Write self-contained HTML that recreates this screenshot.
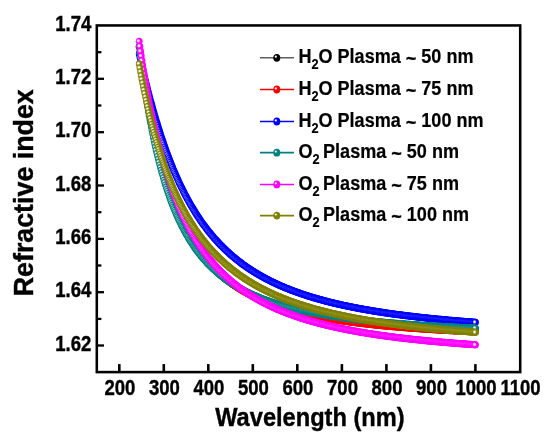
<!DOCTYPE html>
<html><head><meta charset="utf-8"><style>
html,body{margin:0;padding:0;background:#fff;}
svg{display:block;}
text{font-family:"Liberation Sans",Arial,sans-serif;font-weight:bold;fill:#000;stroke:#000;stroke-width:0.4px;}
.tk text{font-size:21.2px;}
.lg{font-size:20.4px;white-space:pre;stroke-width:0.2px;}
</style></head><body>
<svg width="550" height="439" viewBox="0 0 550 439">
<defs><radialGradient id="gblack" cx="-0.9" cy="-0.35" r="2.6" gradientUnits="userSpaceOnUse"><stop offset="0" stop-color="#fff"/><stop offset="0.22" stop-color="#fff"/><stop offset="0.82" stop-color="#000000"/><stop offset="1" stop-color="#000000"/></radialGradient><marker id="mblack" markerUnits="userSpaceOnUse" markerWidth="10" markerHeight="10" refX="5" refY="5" overflow="visible"><circle r="3.4" transform="translate(5,5) scale(1,1.05)" fill="url(#gblack)"/></marker><radialGradient id="gred" cx="-0.9" cy="-0.35" r="2.6" gradientUnits="userSpaceOnUse"><stop offset="0" stop-color="#fff"/><stop offset="0.22" stop-color="#fff"/><stop offset="0.82" stop-color="#ff0000"/><stop offset="1" stop-color="#ff0000"/></radialGradient><marker id="mred" markerUnits="userSpaceOnUse" markerWidth="10" markerHeight="10" refX="5" refY="5" overflow="visible"><circle r="3.4" transform="translate(5,5) scale(1,1.05)" fill="url(#gred)"/></marker><radialGradient id="gblue" cx="-0.9" cy="-0.35" r="2.6" gradientUnits="userSpaceOnUse"><stop offset="0" stop-color="#fff"/><stop offset="0.22" stop-color="#fff"/><stop offset="0.82" stop-color="#0000ff"/><stop offset="1" stop-color="#0000ff"/></radialGradient><marker id="mblue" markerUnits="userSpaceOnUse" markerWidth="10" markerHeight="10" refX="5" refY="5" overflow="visible"><circle r="3.4" transform="translate(5,5) scale(1,1.05)" fill="url(#gblue)"/></marker><radialGradient id="gteal" cx="-0.9" cy="-0.35" r="2.6" gradientUnits="userSpaceOnUse"><stop offset="0" stop-color="#fff"/><stop offset="0.22" stop-color="#fff"/><stop offset="0.82" stop-color="#008080"/><stop offset="1" stop-color="#008080"/></radialGradient><marker id="mteal" markerUnits="userSpaceOnUse" markerWidth="10" markerHeight="10" refX="5" refY="5" overflow="visible"><circle r="3.4" transform="translate(5,5) scale(1,1.05)" fill="url(#gteal)"/></marker><radialGradient id="gmagenta" cx="-0.9" cy="-0.35" r="2.6" gradientUnits="userSpaceOnUse"><stop offset="0" stop-color="#fff"/><stop offset="0.22" stop-color="#fff"/><stop offset="0.82" stop-color="#ff00ff"/><stop offset="1" stop-color="#ff00ff"/></radialGradient><marker id="mmagenta" markerUnits="userSpaceOnUse" markerWidth="10" markerHeight="10" refX="5" refY="5" overflow="visible"><circle r="3.4" transform="translate(5,5) scale(1,1.05)" fill="url(#gmagenta)"/></marker><radialGradient id="golive" cx="-0.9" cy="-0.35" r="2.6" gradientUnits="userSpaceOnUse"><stop offset="0" stop-color="#fff"/><stop offset="0.22" stop-color="#fff"/><stop offset="0.82" stop-color="#808000"/><stop offset="1" stop-color="#808000"/></radialGradient><marker id="molive" markerUnits="userSpaceOnUse" markerWidth="10" markerHeight="10" refX="5" refY="5" overflow="visible"><circle r="3.4" transform="translate(5,5) scale(1,1.05)" fill="url(#golive)"/></marker></defs>
<g><polyline points="139.2,46.8 139.9,52.3 140.6,57.6 141.3,62.8 142.0,67.9 142.7,72.9 143.4,77.7 144.1,82.4 144.8,87.0 145.6,91.5 146.3,95.8 147.0,100.1 147.7,104.2 148.4,108.2 149.1,112.2 149.8,116.0 150.5,119.8 151.3,123.4 152.0,127.0 152.7,130.5 153.4,133.9 154.1,137.2 154.8,140.5 155.5,143.7 156.2,146.8 157.0,149.8 157.7,152.7 158.4,155.6 159.1,158.5 159.8,161.2 160.5,163.9 161.2,166.6 161.9,169.2 162.7,171.7 163.4,174.2 164.1,176.6 164.8,179.0 165.5,181.3 166.2,183.6 166.9,185.8 167.6,188.0 168.4,190.1 169.1,192.2 169.8,194.3 170.5,196.3 171.2,198.2 171.9,200.2 172.6,202.0 173.3,203.9 174.0,205.7 174.8,207.5 175.5,209.2 176.2,210.9 176.9,212.6 177.6,214.3 178.3,215.9 179.0,217.5 179.7,219.0 180.5,220.5 181.2,222.0 181.9,223.5 182.6,224.9 183.3,226.4 184.0,227.7 184.7,229.1 185.4,230.5 186.2,231.8 186.9,233.1 187.6,234.3 188.3,235.6 189.0,236.8 189.7,238.0 190.4,239.2 191.1,240.3 191.9,241.5 192.6,242.6 193.3,243.7 194.0,244.8 194.7,245.9 195.4,246.9 196.1,247.9 196.8,248.9 197.5,249.9 198.3,250.9 199.0,251.9 199.7,252.8 200.4,253.8 201.1,254.7 201.8,255.6 202.5,256.5 203.2,257.4 204.0,258.2 204.7,259.1 205.4,259.9 206.1,260.7 206.8,261.5 207.5,262.3 208.2,263.1 208.9,263.9 209.7,264.6 210.4,265.4 211.1,266.1 211.8,266.9 212.5,267.6 213.2,268.3 213.9,269.0 214.6,269.7 215.4,270.3 216.1,271.0 216.8,271.7 217.5,272.3 218.2,272.9 218.9,273.6 219.6,274.2 220.3,274.8 221.0,275.4 221.8,276.0 222.5,276.6 223.2,277.1 223.9,277.7 224.6,278.3 225.3,278.8 226.0,279.4 226.7,279.9 227.5,280.4 228.2,281.0 228.9,281.5 229.6,282.0 230.3,282.5 231.0,283.0 231.7,283.5 232.4,284.0 233.2,284.4 233.9,284.9 234.6,285.4 235.3,285.8 236.0,286.3 236.7,286.7 237.4,287.2 238.1,287.6 238.9,288.0 239.6,288.5 240.3,288.9 241.0,289.3 241.7,289.7 242.4,290.1 243.1,290.5 243.8,290.9 244.6,291.3 245.3,291.7 246.0,292.1 246.7,292.4 247.4,292.8 248.1,293.2 248.8,293.5 249.5,293.9 250.2,294.2 251.0,294.6 251.7,294.9 252.4,295.3 253.1,295.6 253.8,295.9 254.5,296.3 255.2,296.6 255.9,296.9 256.7,297.2 257.4,297.6 258.1,297.9 258.8,298.2 259.5,298.5 260.2,298.8 260.9,299.1 261.6,299.4 262.4,299.7 263.1,300.0 263.8,300.2 264.5,300.5 265.2,300.8 265.9,301.1 266.6,301.3 267.3,301.6 268.1,301.9 268.8,302.1 269.5,302.4 270.2,302.7 270.9,302.9 271.6,303.2 272.3,303.4 273.0,303.7 273.7,303.9 274.5,304.1 275.2,304.4 275.9,304.6 276.6,304.9 277.3,305.1 278.0,305.3 278.7,305.5 279.4,305.8 280.2,306.0 280.9,306.2 281.6,306.4 282.3,306.7 283.0,306.9 283.7,307.1 284.4,307.3 285.1,307.5 285.9,307.7 286.6,307.9 287.3,308.1 288.0,308.3 288.7,308.5 289.4,308.7 290.1,308.9 290.8,309.1 291.6,309.3 292.3,309.5 293.0,309.6 293.7,309.8 294.4,310.0 295.1,310.2 295.8,310.4 296.5,310.6 297.3,310.7 298.0,310.9 298.7,311.1 299.4,311.2 300.1,311.4 300.8,311.6 301.5,311.8 302.2,311.9 302.9,312.1 303.7,312.2 304.4,312.4 305.1,312.6 305.8,312.7 306.5,312.9 307.2,313.0 307.9,313.2 308.6,313.3 309.4,313.5 310.1,313.6 310.8,313.8 311.5,313.9 312.2,314.1 312.9,314.2 313.6,314.4 314.3,314.5 315.1,314.6 315.8,314.8 316.5,314.9 317.2,315.1 317.9,315.2 318.6,315.3 319.3,315.5 320.0,315.6 320.8,315.7 321.5,315.9 322.2,316.0 322.9,316.1 323.6,316.2 324.3,316.4 325.0,316.5 325.7,316.6 326.4,316.7 327.2,316.9 327.9,317.0 328.6,317.1 329.3,317.2 330.0,317.3 330.7,317.5 331.4,317.6 332.1,317.7 332.9,317.8 333.6,317.9 334.3,318.0 335.0,318.1 335.7,318.2 336.4,318.4 337.1,318.5 337.8,318.6 338.6,318.7 339.3,318.8 340.0,318.9 340.7,319.0 341.4,319.1 342.1,319.2 342.8,319.3 343.5,319.4 344.3,319.5 345.0,319.6 345.7,319.7 346.4,319.8 347.1,319.9 347.8,320.0 348.5,320.1 349.2,320.2 350.0,320.3 350.7,320.4 351.4,320.5 352.1,320.6 352.8,320.7 353.5,320.7 354.2,320.8 354.9,320.9 355.6,321.0 356.4,321.1 357.1,321.2 357.8,321.3 358.5,321.4 359.2,321.4 359.9,321.5 360.6,321.6 361.3,321.7 362.1,321.8 362.8,321.9 363.5,321.9 364.2,322.0 364.9,322.1 365.6,322.2 366.3,322.3 367.0,322.4 367.8,322.4 368.5,322.5 369.2,322.6 369.9,322.7 370.6,322.7 371.3,322.8 372.0,322.9 372.7,323.0 373.5,323.0 374.2,323.1 374.9,323.2 375.6,323.3 376.3,323.3 377.0,323.4 377.7,323.5 378.4,323.5 379.1,323.6 379.9,323.7 380.6,323.8 381.3,323.8 382.0,323.9 382.7,324.0 383.4,324.0 384.1,324.1 384.8,324.2 385.6,324.2 386.3,324.3 387.0,324.4 387.7,324.4 388.4,324.5 389.1,324.6 389.8,324.6 390.5,324.7 391.3,324.7 392.0,324.8 392.7,324.9 393.4,324.9 394.1,325.0 394.8,325.0 395.5,325.1 396.2,325.2 397.0,325.2 397.7,325.3 398.4,325.3 399.1,325.4 399.8,325.5 400.5,325.5 401.2,325.6 401.9,325.6 402.7,325.7 403.4,325.7 404.1,325.8 404.8,325.9 405.5,325.9 406.2,326.0 406.9,326.0 407.6,326.1 408.3,326.1 409.1,326.2 409.8,326.2 410.5,326.3 411.2,326.3 411.9,326.4 412.6,326.4 413.3,326.5 414.0,326.6 414.8,326.6 415.5,326.7 416.2,326.7 416.9,326.8 417.6,326.8 418.3,326.9 419.0,326.9 419.7,327.0 420.5,327.0 421.2,327.0 421.9,327.1 422.6,327.1 423.3,327.2 424.0,327.2 424.7,327.3 425.4,327.3 426.2,327.4 426.9,327.4 427.6,327.5 428.3,327.5 429.0,327.6 429.7,327.6 430.4,327.6 431.1,327.7 431.8,327.7 432.6,327.8 433.3,327.8 434.0,327.9 434.7,327.9 435.4,328.0 436.1,328.0 436.8,328.0 437.5,328.1 438.3,328.1 439.0,328.2 439.7,328.2 440.4,328.2 441.1,328.3 441.8,328.3 442.5,328.4 443.2,328.4 444.0,328.4 444.7,328.5 445.4,328.5 446.1,328.6 446.8,328.6 447.5,328.6 448.2,328.7 448.9,328.7 449.7,328.8 450.4,328.8 451.1,328.8 451.8,328.9 452.5,328.9 453.2,329.0 453.9,329.0 454.6,329.0 455.4,329.1 456.1,329.1 456.8,329.1 457.5,329.2 458.2,329.2 458.9,329.2 459.6,329.3 460.3,329.3 461.0,329.3 461.8,329.4 462.5,329.4 463.2,329.5 463.9,329.5 464.6,329.5 465.3,329.6 466.0,329.6 466.7,329.6 467.5,329.7 468.2,329.7 468.9,329.7 469.6,329.8 470.3,329.8 471.0,329.8 471.7,329.9 472.4,329.9 473.2,329.9 473.9,329.9 474.6,330.0 475.3,330.0 475.4,330.0" fill="none" stroke="#000000" stroke-width="1" marker-start="url(#mblack)" marker-mid="url(#mblack)" marker-end="url(#mblack)"/><polyline points="139.2,47.0 139.9,52.2 140.6,57.2 141.3,62.1 142.0,66.9 142.7,71.6 143.4,76.2 144.1,80.7 144.8,85.1 145.6,89.3 146.3,93.5 147.0,97.6 147.7,101.6 148.4,105.5 149.1,109.3 149.8,113.1 150.5,116.7 151.3,120.3 152.0,123.8 152.7,127.3 153.4,130.6 154.1,133.9 154.8,137.1 155.5,140.2 156.2,143.3 157.0,146.3 157.7,149.3 158.4,152.2 159.1,155.0 159.8,157.8 160.5,160.5 161.2,163.1 161.9,165.7 162.7,168.3 163.4,170.8 164.1,173.2 164.8,175.6 165.5,178.0 166.2,180.3 166.9,182.5 167.6,184.7 168.4,186.9 169.1,189.0 169.8,191.1 170.5,193.2 171.2,195.2 171.9,197.1 172.6,199.1 173.3,201.0 174.0,202.8 174.8,204.6 175.5,206.4 176.2,208.2 176.9,209.9 177.6,211.6 178.3,213.3 179.0,214.9 179.7,216.5 180.5,218.1 181.2,219.6 181.9,221.1 182.6,222.6 183.3,224.1 184.0,225.5 184.7,226.9 185.4,228.3 186.2,229.7 186.9,231.0 187.6,232.3 188.3,233.6 189.0,234.9 189.7,236.1 190.4,237.4 191.1,238.6 191.9,239.8 192.6,240.9 193.3,242.1 194.0,243.2 194.7,244.3 195.4,245.4 196.1,246.5 196.8,247.5 197.5,248.6 198.3,249.6 199.0,250.6 199.7,251.6 200.4,252.6 201.1,253.5 201.8,254.5 202.5,255.4 203.2,256.3 204.0,257.2 204.7,258.1 205.4,259.0 206.1,259.8 206.8,260.7 207.5,261.5 208.2,262.3 208.9,263.1 209.7,263.9 210.4,264.7 211.1,265.5 211.8,266.2 212.5,267.0 213.2,267.7 213.9,268.5 214.6,269.2 215.4,269.9 216.1,270.6 216.8,271.3 217.5,271.9 218.2,272.6 218.9,273.3 219.6,273.9 220.3,274.5 221.0,275.2 221.8,275.8 222.5,276.4 223.2,277.0 223.9,277.6 224.6,278.2 225.3,278.8 226.0,279.3 226.7,279.9 227.5,280.5 228.2,281.0 228.9,281.6 229.6,282.1 230.3,282.6 231.0,283.1 231.7,283.7 232.4,284.2 233.2,284.7 233.9,285.1 234.6,285.6 235.3,286.1 236.0,286.6 236.7,287.1 237.4,287.5 238.1,288.0 238.9,288.4 239.6,288.9 240.3,289.3 241.0,289.7 241.7,290.2 242.4,290.6 243.1,291.0 243.8,291.4 244.6,291.8 245.3,292.2 246.0,292.6 246.7,293.0 247.4,293.4 248.1,293.8 248.8,294.2 249.5,294.5 250.2,294.9 251.0,295.3 251.7,295.6 252.4,296.0 253.1,296.4 253.8,296.7 254.5,297.0 255.2,297.4 255.9,297.7 256.7,298.1 257.4,298.4 258.1,298.7 258.8,299.0 259.5,299.3 260.2,299.7 260.9,300.0 261.6,300.3 262.4,300.6 263.1,300.9 263.8,301.2 264.5,301.5 265.2,301.8 265.9,302.0 266.6,302.3 267.3,302.6 268.1,302.9 268.8,303.2 269.5,303.4 270.2,303.7 270.9,304.0 271.6,304.2 272.3,304.5 273.0,304.8 273.7,305.0 274.5,305.3 275.2,305.5 275.9,305.8 276.6,306.0 277.3,306.2 278.0,306.5 278.7,306.7 279.4,307.0 280.2,307.2 280.9,307.4 281.6,307.6 282.3,307.9 283.0,308.1 283.7,308.3 284.4,308.5 285.1,308.7 285.9,309.0 286.6,309.2 287.3,309.4 288.0,309.6 288.7,309.8 289.4,310.0 290.1,310.2 290.8,310.4 291.6,310.6 292.3,310.8 293.0,311.0 293.7,311.2 294.4,311.4 295.1,311.5 295.8,311.7 296.5,311.9 297.3,312.1 298.0,312.3 298.7,312.5 299.4,312.6 300.1,312.8 300.8,313.0 301.5,313.2 302.2,313.3 302.9,313.5 303.7,313.7 304.4,313.8 305.1,314.0 305.8,314.2 306.5,314.3 307.2,314.5 307.9,314.6 308.6,314.8 309.4,315.0 310.1,315.1 310.8,315.3 311.5,315.4 312.2,315.6 312.9,315.7 313.6,315.9 314.3,316.0 315.1,316.2 315.8,316.3 316.5,316.4 317.2,316.6 317.9,316.7 318.6,316.9 319.3,317.0 320.0,317.1 320.8,317.3 321.5,317.4 322.2,317.5 322.9,317.7 323.6,317.8 324.3,317.9 325.0,318.1 325.7,318.2 326.4,318.3 327.2,318.4 327.9,318.6 328.6,318.7 329.3,318.8 330.0,318.9 330.7,319.1 331.4,319.2 332.1,319.3 332.9,319.4 333.6,319.5 334.3,319.6 335.0,319.8 335.7,319.9 336.4,320.0 337.1,320.1 337.8,320.2 338.6,320.3 339.3,320.4 340.0,320.5 340.7,320.6 341.4,320.7 342.1,320.9 342.8,321.0 343.5,321.1 344.3,321.2 345.0,321.3 345.7,321.4 346.4,321.5 347.1,321.6 347.8,321.7 348.5,321.8 349.2,321.9 350.0,322.0 350.7,322.1 351.4,322.2 352.1,322.3 352.8,322.3 353.5,322.4 354.2,322.5 354.9,322.6 355.6,322.7 356.4,322.8 357.1,322.9 357.8,323.0 358.5,323.1 359.2,323.2 359.9,323.2 360.6,323.3 361.3,323.4 362.1,323.5 362.8,323.6 363.5,323.7 364.2,323.8 364.9,323.8 365.6,323.9 366.3,324.0 367.0,324.1 367.8,324.2 368.5,324.2 369.2,324.3 369.9,324.4 370.6,324.5 371.3,324.6 372.0,324.6 372.7,324.7 373.5,324.8 374.2,324.9 374.9,324.9 375.6,325.0 376.3,325.1 377.0,325.2 377.7,325.2 378.4,325.3 379.1,325.4 379.9,325.5 380.6,325.5 381.3,325.6 382.0,325.7 382.7,325.7 383.4,325.8 384.1,325.9 384.8,325.9 385.6,326.0 386.3,326.1 387.0,326.1 387.7,326.2 388.4,326.3 389.1,326.3 389.8,326.4 390.5,326.5 391.3,326.5 392.0,326.6 392.7,326.7 393.4,326.7 394.1,326.8 394.8,326.8 395.5,326.9 396.2,327.0 397.0,327.0 397.7,327.1 398.4,327.1 399.1,327.2 399.8,327.3 400.5,327.3 401.2,327.4 401.9,327.4 402.7,327.5 403.4,327.6 404.1,327.6 404.8,327.7 405.5,327.7 406.2,327.8 406.9,327.8 407.6,327.9 408.3,327.9 409.1,328.0 409.8,328.1 410.5,328.1 411.2,328.2 411.9,328.2 412.6,328.3 413.3,328.3 414.0,328.4 414.8,328.4 415.5,328.5 416.2,328.5 416.9,328.6 417.6,328.6 418.3,328.7 419.0,328.7 419.7,328.8 420.5,328.8 421.2,328.9 421.9,328.9 422.6,329.0 423.3,329.0 424.0,329.1 424.7,329.1 425.4,329.2 426.2,329.2 426.9,329.3 427.6,329.3 428.3,329.3 429.0,329.4 429.7,329.4 430.4,329.5 431.1,329.5 431.8,329.6 432.6,329.6 433.3,329.7 434.0,329.7 434.7,329.8 435.4,329.8 436.1,329.8 436.8,329.9 437.5,329.9 438.3,330.0 439.0,330.0 439.7,330.1 440.4,330.1 441.1,330.1 441.8,330.2 442.5,330.2 443.2,330.3 444.0,330.3 444.7,330.3 445.4,330.4 446.1,330.4 446.8,330.5 447.5,330.5 448.2,330.5 448.9,330.6 449.7,330.6 450.4,330.7 451.1,330.7 451.8,330.7 452.5,330.8 453.2,330.8 453.9,330.8 454.6,330.9 455.4,330.9 456.1,331.0 456.8,331.0 457.5,331.0 458.2,331.1 458.9,331.1 459.6,331.1 460.3,331.2 461.0,331.2 461.8,331.2 462.5,331.3 463.2,331.3 463.9,331.3 464.6,331.4 465.3,331.4 466.0,331.4 466.7,331.5 467.5,331.5 468.2,331.5 468.9,331.6 469.6,331.6 470.3,331.6 471.0,331.7 471.7,331.7 472.4,331.7 473.2,331.8 473.9,331.8 474.6,331.8 475.3,331.9 475.4,331.9" fill="none" stroke="#ff0000" stroke-width="1" marker-start="url(#mred)" marker-mid="url(#mred)" marker-end="url(#mred)"/><polyline points="139.2,53.9 139.9,57.0 140.6,60.1 141.3,63.2 142.0,66.2 142.7,69.2 143.4,72.2 144.1,75.1 144.8,78.0 145.6,80.9 146.3,83.8 147.0,86.6 147.7,89.4 148.4,92.1 149.1,94.9 149.8,97.6 150.5,100.2 151.3,102.8 152.0,105.4 152.7,108.0 153.4,110.5 154.1,113.0 154.8,115.5 155.5,117.9 156.2,120.3 157.0,122.7 157.7,125.0 158.4,127.3 159.1,129.6 159.8,131.9 160.5,134.1 161.2,136.3 161.9,138.4 162.7,140.5 163.4,142.6 164.1,144.7 164.8,146.8 165.5,148.8 166.2,150.8 166.9,152.7 167.6,154.6 168.4,156.5 169.1,158.4 169.8,160.3 170.5,162.1 171.2,163.9 171.9,165.7 172.6,167.4 173.3,169.2 174.0,170.9 174.8,172.5 175.5,174.2 176.2,175.8 176.9,177.5 177.6,179.0 178.3,180.6 179.0,182.2 179.7,183.7 180.5,185.2 181.2,186.7 181.9,188.1 182.6,189.6 183.3,191.0 184.0,192.4 184.7,193.8 185.4,195.2 186.2,196.5 186.9,197.9 187.6,199.2 188.3,200.5 189.0,201.8 189.7,203.0 190.4,204.3 191.1,205.5 191.9,206.7 192.6,207.9 193.3,209.1 194.0,210.3 194.7,211.4 195.4,212.6 196.1,213.7 196.8,214.8 197.5,215.9 198.3,217.0 199.0,218.1 199.7,219.1 200.4,220.2 201.1,221.2 201.8,222.2 202.5,223.2 203.2,224.2 204.0,225.2 204.7,226.1 205.4,227.1 206.1,228.0 206.8,229.0 207.5,229.9 208.2,230.8 208.9,231.7 209.7,232.6 210.4,233.4 211.1,234.3 211.8,235.2 212.5,236.0 213.2,236.8 213.9,237.7 214.6,238.5 215.4,239.3 216.1,240.1 216.8,240.9 217.5,241.6 218.2,242.4 218.9,243.2 219.6,243.9 220.3,244.7 221.0,245.4 221.8,246.1 222.5,246.8 223.2,247.5 223.9,248.2 224.6,248.9 225.3,249.6 226.0,250.3 226.7,251.0 227.5,251.6 228.2,252.3 228.9,252.9 229.6,253.6 230.3,254.2 231.0,254.8 231.7,255.4 232.4,256.0 233.2,256.7 233.9,257.3 234.6,257.8 235.3,258.4 236.0,259.0 236.7,259.6 237.4,260.1 238.1,260.7 238.9,261.3 239.6,261.8 240.3,262.4 241.0,262.9 241.7,263.4 242.4,264.0 243.1,264.5 243.8,265.0 244.6,265.5 245.3,266.0 246.0,266.5 246.7,267.0 247.4,267.5 248.1,268.0 248.8,268.5 249.5,268.9 250.2,269.4 251.0,269.9 251.7,270.3 252.4,270.8 253.1,271.2 253.8,271.7 254.5,272.1 255.2,272.6 255.9,273.0 256.7,273.4 257.4,273.8 258.1,274.3 258.8,274.7 259.5,275.1 260.2,275.5 260.9,275.9 261.6,276.3 262.4,276.7 263.1,277.1 263.8,277.5 264.5,277.9 265.2,278.3 265.9,278.6 266.6,279.0 267.3,279.4 268.1,279.8 268.8,280.1 269.5,280.5 270.2,280.8 270.9,281.2 271.6,281.6 272.3,281.9 273.0,282.2 273.7,282.6 274.5,282.9 275.2,283.3 275.9,283.6 276.6,283.9 277.3,284.3 278.0,284.6 278.7,284.9 279.4,285.2 280.2,285.5 280.9,285.8 281.6,286.2 282.3,286.5 283.0,286.8 283.7,287.1 284.4,287.4 285.1,287.7 285.9,288.0 286.6,288.2 287.3,288.5 288.0,288.8 288.7,289.1 289.4,289.4 290.1,289.7 290.8,289.9 291.6,290.2 292.3,290.5 293.0,290.8 293.7,291.0 294.4,291.3 295.1,291.6 295.8,291.8 296.5,292.1 297.3,292.3 298.0,292.6 298.7,292.8 299.4,293.1 300.1,293.3 300.8,293.6 301.5,293.8 302.2,294.1 302.9,294.3 303.7,294.5 304.4,294.8 305.1,295.0 305.8,295.2 306.5,295.5 307.2,295.7 307.9,295.9 308.6,296.2 309.4,296.4 310.1,296.6 310.8,296.8 311.5,297.0 312.2,297.3 312.9,297.5 313.6,297.7 314.3,297.9 315.1,298.1 315.8,298.3 316.5,298.5 317.2,298.7 317.9,298.9 318.6,299.1 319.3,299.3 320.0,299.5 320.8,299.7 321.5,299.9 322.2,300.1 322.9,300.3 323.6,300.5 324.3,300.7 325.0,300.9 325.7,301.1 326.4,301.3 327.2,301.4 327.9,301.6 328.6,301.8 329.3,302.0 330.0,302.2 330.7,302.3 331.4,302.5 332.1,302.7 332.9,302.9 333.6,303.0 334.3,303.2 335.0,303.4 335.7,303.5 336.4,303.7 337.1,303.9 337.8,304.0 338.6,304.2 339.3,304.4 340.0,304.5 340.7,304.7 341.4,304.8 342.1,305.0 342.8,305.2 343.5,305.3 344.3,305.5 345.0,305.6 345.7,305.8 346.4,305.9 347.1,306.1 347.8,306.2 348.5,306.4 349.2,306.5 350.0,306.7 350.7,306.8 351.4,307.0 352.1,307.1 352.8,307.2 353.5,307.4 354.2,307.5 354.9,307.7 355.6,307.8 356.4,307.9 357.1,308.1 357.8,308.2 358.5,308.4 359.2,308.5 359.9,308.6 360.6,308.7 361.3,308.9 362.1,309.0 362.8,309.1 363.5,309.3 364.2,309.4 364.9,309.5 365.6,309.6 366.3,309.8 367.0,309.9 367.8,310.0 368.5,310.1 369.2,310.3 369.9,310.4 370.6,310.5 371.3,310.6 372.0,310.7 372.7,310.9 373.5,311.0 374.2,311.1 374.9,311.2 375.6,311.3 376.3,311.4 377.0,311.6 377.7,311.7 378.4,311.8 379.1,311.9 379.9,312.0 380.6,312.1 381.3,312.2 382.0,312.3 382.7,312.4 383.4,312.6 384.1,312.7 384.8,312.8 385.6,312.9 386.3,313.0 387.0,313.1 387.7,313.2 388.4,313.3 389.1,313.4 389.8,313.5 390.5,313.6 391.3,313.7 392.0,313.8 392.7,313.9 393.4,314.0 394.1,314.1 394.8,314.2 395.5,314.3 396.2,314.4 397.0,314.5 397.7,314.6 398.4,314.7 399.1,314.8 399.8,314.8 400.5,314.9 401.2,315.0 401.9,315.1 402.7,315.2 403.4,315.3 404.1,315.4 404.8,315.5 405.5,315.6 406.2,315.7 406.9,315.8 407.6,315.8 408.3,315.9 409.1,316.0 409.8,316.1 410.5,316.2 411.2,316.3 411.9,316.4 412.6,316.4 413.3,316.5 414.0,316.6 414.8,316.7 415.5,316.8 416.2,316.8 416.9,316.9 417.6,317.0 418.3,317.1 419.0,317.2 419.7,317.3 420.5,317.3 421.2,317.4 421.9,317.5 422.6,317.6 423.3,317.6 424.0,317.7 424.7,317.8 425.4,317.9 426.2,317.9 426.9,318.0 427.6,318.1 428.3,318.2 429.0,318.2 429.7,318.3 430.4,318.4 431.1,318.5 431.8,318.5 432.6,318.6 433.3,318.7 434.0,318.7 434.7,318.8 435.4,318.9 436.1,319.0 436.8,319.0 437.5,319.1 438.3,319.2 439.0,319.2 439.7,319.3 440.4,319.4 441.1,319.4 441.8,319.5 442.5,319.6 443.2,319.6 444.0,319.7 444.7,319.8 445.4,319.8 446.1,319.9 446.8,320.0 447.5,320.0 448.2,320.1 448.9,320.2 449.7,320.2 450.4,320.3 451.1,320.3 451.8,320.4 452.5,320.5 453.2,320.5 453.9,320.6 454.6,320.7 455.4,320.7 456.1,320.8 456.8,320.8 457.5,320.9 458.2,321.0 458.9,321.0 459.6,321.1 460.3,321.1 461.0,321.2 461.8,321.2 462.5,321.3 463.2,321.4 463.9,321.4 464.6,321.5 465.3,321.5 466.0,321.6 466.7,321.6 467.5,321.7 468.2,321.8 468.9,321.8 469.6,321.9 470.3,321.9 471.0,322.0 471.7,322.0 472.4,322.1 473.2,322.1 473.9,322.2 474.6,322.2 475.3,322.3 475.4,322.3" fill="none" stroke="#0000ff" stroke-width="1" marker-start="url(#mblue)" marker-mid="url(#mblue)" marker-end="url(#mblue)"/><polyline points="139.2,46.5 139.9,52.3 140.6,58.0 141.3,63.6 142.0,69.0 142.7,74.2 143.4,79.2 144.1,84.2 144.8,88.9 145.6,93.6 146.3,98.1 147.0,102.5 147.7,106.8 148.4,111.0 149.1,115.0 149.8,119.0 150.5,122.8 151.3,126.5 152.0,130.2 152.7,133.7 153.4,137.2 154.1,140.6 154.8,143.9 155.5,147.1 156.2,150.2 157.0,153.2 157.7,156.2 158.4,159.1 159.1,161.9 159.8,164.7 160.5,167.4 161.2,170.1 161.9,172.6 162.7,175.1 163.4,177.6 164.1,180.0 164.8,182.4 165.5,184.7 166.2,186.9 166.9,189.1 167.6,191.2 168.4,193.3 169.1,195.4 169.8,197.4 170.5,199.4 171.2,201.3 171.9,203.2 172.6,205.0 173.3,206.8 174.0,208.6 174.8,210.3 175.5,212.0 176.2,213.7 176.9,215.3 177.6,216.9 178.3,218.5 179.0,220.0 179.7,221.5 180.5,223.0 181.2,224.5 181.9,225.9 182.6,227.3 183.3,228.6 184.0,230.0 184.7,231.3 185.4,232.6 186.2,233.9 186.9,235.1 187.6,236.3 188.3,237.5 189.0,238.7 189.7,239.9 190.4,241.0 191.1,242.1 191.9,243.2 192.6,244.3 193.3,245.3 194.0,246.4 194.7,247.4 195.4,248.4 196.1,249.4 196.8,250.4 197.5,251.3 198.3,252.3 199.0,253.2 199.7,254.1 200.4,255.0 201.1,255.9 201.8,256.7 202.5,257.6 203.2,258.4 204.0,259.2 204.7,260.0 205.4,260.8 206.1,261.6 206.8,262.4 207.5,263.2 208.2,263.9 208.9,264.6 209.7,265.4 210.4,266.1 211.1,266.8 211.8,267.5 212.5,268.2 213.2,268.8 213.9,269.5 214.6,270.1 215.4,270.8 216.1,271.4 216.8,272.0 217.5,272.7 218.2,273.3 218.9,273.9 219.6,274.5 220.3,275.0 221.0,275.6 221.8,276.2 222.5,276.7 223.2,277.3 223.9,277.8 224.6,278.4 225.3,278.9 226.0,279.4 226.7,279.9 227.5,280.4 228.2,280.9 228.9,281.4 229.6,281.9 230.3,282.4 231.0,282.8 231.7,283.3 232.4,283.8 233.2,284.2 233.9,284.7 234.6,285.1 235.3,285.6 236.0,286.0 236.7,286.4 237.4,286.8 238.1,287.2 238.9,287.7 239.6,288.1 240.3,288.5 241.0,288.9 241.7,289.2 242.4,289.6 243.1,290.0 243.8,290.4 244.6,290.8 245.3,291.1 246.0,291.5 246.7,291.8 247.4,292.2 248.1,292.5 248.8,292.9 249.5,293.2 250.2,293.6 251.0,293.9 251.7,294.2 252.4,294.6 253.1,294.9 253.8,295.2 254.5,295.5 255.2,295.8 255.9,296.1 256.7,296.4 257.4,296.7 258.1,297.0 258.8,297.3 259.5,297.6 260.2,297.9 260.9,298.2 261.6,298.5 262.4,298.7 263.1,299.0 263.8,299.3 264.5,299.6 265.2,299.8 265.9,300.1 266.6,300.3 267.3,300.6 268.1,300.9 268.8,301.1 269.5,301.4 270.2,301.6 270.9,301.9 271.6,302.1 272.3,302.3 273.0,302.6 273.7,302.8 274.5,303.0 275.2,303.3 275.9,303.5 276.6,303.7 277.3,303.9 278.0,304.2 278.7,304.4 279.4,304.6 280.2,304.8 280.9,305.0 281.6,305.2 282.3,305.4 283.0,305.6 283.7,305.8 284.4,306.0 285.1,306.2 285.9,306.4 286.6,306.6 287.3,306.8 288.0,307.0 288.7,307.2 289.4,307.4 290.1,307.6 290.8,307.8 291.6,308.0 292.3,308.1 293.0,308.3 293.7,308.5 294.4,308.7 295.1,308.8 295.8,309.0 296.5,309.2 297.3,309.4 298.0,309.5 298.7,309.7 299.4,309.9 300.1,310.0 300.8,310.2 301.5,310.3 302.2,310.5 302.9,310.7 303.7,310.8 304.4,311.0 305.1,311.1 305.8,311.3 306.5,311.4 307.2,311.6 307.9,311.7 308.6,311.9 309.4,312.0 310.1,312.2 310.8,312.3 311.5,312.4 312.2,312.6 312.9,312.7 313.6,312.9 314.3,313.0 315.1,313.1 315.8,313.3 316.5,313.4 317.2,313.5 317.9,313.7 318.6,313.8 319.3,313.9 320.0,314.1 320.8,314.2 321.5,314.3 322.2,314.4 322.9,314.6 323.6,314.7 324.3,314.8 325.0,314.9 325.7,315.0 326.4,315.2 327.2,315.3 327.9,315.4 328.6,315.5 329.3,315.6 330.0,315.7 330.7,315.9 331.4,316.0 332.1,316.1 332.9,316.2 333.6,316.3 334.3,316.4 335.0,316.5 335.7,316.6 336.4,316.7 337.1,316.8 337.8,316.9 338.6,317.0 339.3,317.1 340.0,317.2 340.7,317.3 341.4,317.4 342.1,317.5 342.8,317.6 343.5,317.7 344.3,317.8 345.0,317.9 345.7,318.0 346.4,318.1 347.1,318.2 347.8,318.3 348.5,318.4 349.2,318.5 350.0,318.6 350.7,318.7 351.4,318.8 352.1,318.9 352.8,319.0 353.5,319.0 354.2,319.1 354.9,319.2 355.6,319.3 356.4,319.4 357.1,319.5 357.8,319.6 358.5,319.7 359.2,319.7 359.9,319.8 360.6,319.9 361.3,320.0 362.1,320.1 362.8,320.1 363.5,320.2 364.2,320.3 364.9,320.4 365.6,320.5 366.3,320.5 367.0,320.6 367.8,320.7 368.5,320.8 369.2,320.8 369.9,320.9 370.6,321.0 371.3,321.1 372.0,321.1 372.7,321.2 373.5,321.3 374.2,321.4 374.9,321.4 375.6,321.5 376.3,321.6 377.0,321.6 377.7,321.7 378.4,321.8 379.1,321.9 379.9,321.9 380.6,322.0 381.3,322.1 382.0,322.1 382.7,322.2 383.4,322.3 384.1,322.3 384.8,322.4 385.6,322.5 386.3,322.5 387.0,322.6 387.7,322.6 388.4,322.7 389.1,322.8 389.8,322.8 390.5,322.9 391.3,323.0 392.0,323.0 392.7,323.1 393.4,323.1 394.1,323.2 394.8,323.3 395.5,323.3 396.2,323.4 397.0,323.4 397.7,323.5 398.4,323.5 399.1,323.6 399.8,323.7 400.5,323.7 401.2,323.8 401.9,323.8 402.7,323.9 403.4,323.9 404.1,324.0 404.8,324.1 405.5,324.1 406.2,324.2 406.9,324.2 407.6,324.3 408.3,324.3 409.1,324.4 409.8,324.4 410.5,324.5 411.2,324.5 411.9,324.6 412.6,324.6 413.3,324.7 414.0,324.7 414.8,324.8 415.5,324.8 416.2,324.9 416.9,324.9 417.6,325.0 418.3,325.0 419.0,325.1 419.7,325.1 420.5,325.2 421.2,325.2 421.9,325.3 422.6,325.3 423.3,325.4 424.0,325.4 424.7,325.5 425.4,325.5 426.2,325.5 426.9,325.6 427.6,325.6 428.3,325.7 429.0,325.7 429.7,325.8 430.4,325.8 431.1,325.9 431.8,325.9 432.6,325.9 433.3,326.0 434.0,326.0 434.7,326.1 435.4,326.1 436.1,326.2 436.8,326.2 437.5,326.2 438.3,326.3 439.0,326.3 439.7,326.4 440.4,326.4 441.1,326.4 441.8,326.5 442.5,326.5 443.2,326.6 444.0,326.6 444.7,326.6 445.4,326.7 446.1,326.7 446.8,326.8 447.5,326.8 448.2,326.8 448.9,326.9 449.7,326.9 450.4,326.9 451.1,327.0 451.8,327.0 452.5,327.1 453.2,327.1 453.9,327.1 454.6,327.2 455.4,327.2 456.1,327.2 456.8,327.3 457.5,327.3 458.2,327.4 458.9,327.4 459.6,327.4 460.3,327.5 461.0,327.5 461.8,327.5 462.5,327.6 463.2,327.6 463.9,327.6 464.6,327.7 465.3,327.7 466.0,327.7 466.7,327.8 467.5,327.8 468.2,327.8 468.9,327.9 469.6,327.9 470.3,327.9 471.0,328.0 471.7,328.0 472.4,328.0 473.2,328.1 473.9,328.1 474.6,328.1 475.3,328.1 475.4,328.2" fill="none" stroke="#008080" stroke-width="1" marker-start="url(#mteal)" marker-mid="url(#mteal)" marker-end="url(#mteal)"/><polyline points="139.2,41.2 139.9,46.2 140.6,51.1 141.3,55.9 142.0,60.5 142.7,65.1 143.4,69.5 144.1,73.9 144.8,78.2 145.6,82.3 146.3,86.4 147.0,90.4 147.7,94.3 148.4,98.1 149.1,101.8 149.8,105.4 150.5,109.0 151.3,112.5 152.0,115.9 152.7,119.3 153.4,122.5 154.1,125.8 154.8,128.9 155.5,132.0 156.2,135.0 157.0,138.0 157.7,140.9 158.4,143.7 159.1,146.5 159.8,149.2 160.5,151.9 161.2,154.5 161.9,157.1 162.7,159.6 163.4,162.1 164.1,164.6 164.8,167.0 165.5,169.3 166.2,171.6 166.9,173.9 167.6,176.1 168.4,178.3 169.1,180.4 169.8,182.5 170.5,184.6 171.2,186.6 171.9,188.6 172.6,190.6 173.3,192.5 174.0,194.4 174.8,196.2 175.5,198.1 176.2,199.8 176.9,201.6 177.6,203.3 178.3,205.1 179.0,206.7 179.7,208.4 180.5,210.0 181.2,211.6 181.9,213.2 182.6,214.7 183.3,216.2 184.0,217.7 184.7,219.2 185.4,220.7 186.2,222.1 186.9,223.5 187.6,224.9 188.3,226.2 189.0,227.6 189.7,228.9 190.4,230.2 191.1,231.5 191.9,232.8 192.6,234.0 193.3,235.2 194.0,236.4 194.7,237.6 195.4,238.8 196.1,239.9 196.8,241.1 197.5,242.2 198.3,243.3 199.0,244.4 199.7,245.5 200.4,246.5 201.1,247.6 201.8,248.6 202.5,249.6 203.2,250.6 204.0,251.6 204.7,252.6 205.4,253.5 206.1,254.5 206.8,255.4 207.5,256.3 208.2,257.3 208.9,258.2 209.7,259.0 210.4,259.9 211.1,260.8 211.8,261.6 212.5,262.5 213.2,263.3 213.9,264.1 214.6,264.9 215.4,265.7 216.1,266.5 216.8,267.3 217.5,268.0 218.2,268.8 218.9,269.6 219.6,270.3 220.3,271.0 221.0,271.7 221.8,272.5 222.5,273.2 223.2,273.8 223.9,274.5 224.6,275.2 225.3,275.9 226.0,276.5 226.7,277.2 227.5,277.8 228.2,278.5 228.9,279.1 229.6,279.7 230.3,280.3 231.0,281.0 231.7,281.6 232.4,282.2 233.2,282.7 233.9,283.3 234.6,283.9 235.3,284.5 236.0,285.0 236.7,285.6 237.4,286.1 238.1,286.7 238.9,287.2 239.6,287.7 240.3,288.3 241.0,288.8 241.7,289.3 242.4,289.8 243.1,290.3 243.8,290.8 244.6,291.3 245.3,291.8 246.0,292.3 246.7,292.7 247.4,293.2 248.1,293.7 248.8,294.1 249.5,294.6 250.2,295.0 251.0,295.5 251.7,295.9 252.4,296.4 253.1,296.8 253.8,297.2 254.5,297.6 255.2,298.1 255.9,298.5 256.7,298.9 257.4,299.3 258.1,299.7 258.8,300.1 259.5,300.5 260.2,300.9 260.9,301.3 261.6,301.6 262.4,302.0 263.1,302.4 263.8,302.8 264.5,303.1 265.2,303.5 265.9,303.8 266.6,304.2 267.3,304.6 268.1,304.9 268.8,305.3 269.5,305.6 270.2,305.9 270.9,306.3 271.6,306.6 272.3,306.9 273.0,307.3 273.7,307.6 274.5,307.9 275.2,308.2 275.9,308.5 276.6,308.9 277.3,309.2 278.0,309.5 278.7,309.8 279.4,310.1 280.2,310.4 280.9,310.7 281.6,311.0 282.3,311.3 283.0,311.5 283.7,311.8 284.4,312.1 285.1,312.4 285.9,312.7 286.6,312.9 287.3,313.2 288.0,313.5 288.7,313.8 289.4,314.0 290.1,314.3 290.8,314.5 291.6,314.8 292.3,315.1 293.0,315.3 293.7,315.6 294.4,315.8 295.1,316.1 295.8,316.3 296.5,316.5 297.3,316.8 298.0,317.0 298.7,317.3 299.4,317.5 300.1,317.7 300.8,318.0 301.5,318.2 302.2,318.4 302.9,318.6 303.7,318.9 304.4,319.1 305.1,319.3 305.8,319.5 306.5,319.7 307.2,320.0 307.9,320.2 308.6,320.4 309.4,320.6 310.1,320.8 310.8,321.0 311.5,321.2 312.2,321.4 312.9,321.6 313.6,321.8 314.3,322.0 315.1,322.2 315.8,322.4 316.5,322.6 317.2,322.8 317.9,323.0 318.6,323.2 319.3,323.4 320.0,323.5 320.8,323.7 321.5,323.9 322.2,324.1 322.9,324.3 323.6,324.5 324.3,324.6 325.0,324.8 325.7,325.0 326.4,325.2 327.2,325.3 327.9,325.5 328.6,325.7 329.3,325.8 330.0,326.0 330.7,326.2 331.4,326.3 332.1,326.5 332.9,326.7 333.6,326.8 334.3,327.0 335.0,327.1 335.7,327.3 336.4,327.5 337.1,327.6 337.8,327.8 338.6,327.9 339.3,328.1 340.0,328.2 340.7,328.4 341.4,328.5 342.1,328.7 342.8,328.8 343.5,329.0 344.3,329.1 345.0,329.2 345.7,329.4 346.4,329.5 347.1,329.7 347.8,329.8 348.5,329.9 349.2,330.1 350.0,330.2 350.7,330.4 351.4,330.5 352.1,330.6 352.8,330.8 353.5,330.9 354.2,331.0 354.9,331.1 355.6,331.3 356.4,331.4 357.1,331.5 357.8,331.7 358.5,331.8 359.2,331.9 359.9,332.0 360.6,332.2 361.3,332.3 362.1,332.4 362.8,332.5 363.5,332.6 364.2,332.8 364.9,332.9 365.6,333.0 366.3,333.1 367.0,333.2 367.8,333.3 368.5,333.5 369.2,333.6 369.9,333.7 370.6,333.8 371.3,333.9 372.0,334.0 372.7,334.1 373.5,334.2 374.2,334.3 374.9,334.5 375.6,334.6 376.3,334.7 377.0,334.8 377.7,334.9 378.4,335.0 379.1,335.1 379.9,335.2 380.6,335.3 381.3,335.4 382.0,335.5 382.7,335.6 383.4,335.7 384.1,335.8 384.8,335.9 385.6,336.0 386.3,336.1 387.0,336.2 387.7,336.3 388.4,336.4 389.1,336.5 389.8,336.6 390.5,336.7 391.3,336.8 392.0,336.8 392.7,336.9 393.4,337.0 394.1,337.1 394.8,337.2 395.5,337.3 396.2,337.4 397.0,337.5 397.7,337.6 398.4,337.7 399.1,337.7 399.8,337.8 400.5,337.9 401.2,338.0 401.9,338.1 402.7,338.2 403.4,338.3 404.1,338.3 404.8,338.4 405.5,338.5 406.2,338.6 406.9,338.7 407.6,338.8 408.3,338.8 409.1,338.9 409.8,339.0 410.5,339.1 411.2,339.2 411.9,339.2 412.6,339.3 413.3,339.4 414.0,339.5 414.8,339.5 415.5,339.6 416.2,339.7 416.9,339.8 417.6,339.8 418.3,339.9 419.0,340.0 419.7,340.1 420.5,340.1 421.2,340.2 421.9,340.3 422.6,340.4 423.3,340.4 424.0,340.5 424.7,340.6 425.4,340.6 426.2,340.7 426.9,340.8 427.6,340.9 428.3,340.9 429.0,341.0 429.7,341.1 430.4,341.1 431.1,341.2 431.8,341.3 432.6,341.3 433.3,341.4 434.0,341.5 434.7,341.5 435.4,341.6 436.1,341.7 436.8,341.7 437.5,341.8 438.3,341.8 439.0,341.9 439.7,342.0 440.4,342.0 441.1,342.1 441.8,342.2 442.5,342.2 443.2,342.3 444.0,342.3 444.7,342.4 445.4,342.5 446.1,342.5 446.8,342.6 447.5,342.6 448.2,342.7 448.9,342.8 449.7,342.8 450.4,342.9 451.1,342.9 451.8,343.0 452.5,343.1 453.2,343.1 453.9,343.2 454.6,343.2 455.4,343.3 456.1,343.3 456.8,343.4 457.5,343.5 458.2,343.5 458.9,343.6 459.6,343.6 460.3,343.7 461.0,343.7 461.8,343.8 462.5,343.8 463.2,343.9 463.9,343.9 464.6,344.0 465.3,344.0 466.0,344.1 466.7,344.1 467.5,344.2 468.2,344.2 468.9,344.3 469.6,344.4 470.3,344.4 471.0,344.5 471.7,344.5 472.4,344.6 473.2,344.6 473.9,344.7 474.6,344.7 475.3,344.7 475.4,344.8" fill="none" stroke="#ff00ff" stroke-width="1" marker-start="url(#mmagenta)" marker-mid="url(#mmagenta)" marker-end="url(#mmagenta)"/><polyline points="139.2,63.8 139.9,67.8 140.6,71.7 141.3,75.5 142.0,79.2 142.7,82.8 143.4,86.4 144.1,89.9 144.8,93.3 145.6,96.7 146.3,100.0 147.0,103.2 147.7,106.4 148.4,109.5 149.1,112.5 149.8,115.5 150.5,118.4 151.3,121.2 152.0,124.1 152.7,126.8 153.4,129.5 154.1,132.2 154.8,134.8 155.5,137.3 156.2,139.8 157.0,142.3 157.7,144.7 158.4,147.1 159.1,149.4 159.8,151.7 160.5,153.9 161.2,156.2 161.9,158.3 162.7,160.5 163.4,162.6 164.1,164.6 164.8,166.6 165.5,168.6 166.2,170.6 166.9,172.5 167.6,174.4 168.4,176.3 169.1,178.1 169.8,179.9 170.5,181.7 171.2,183.4 171.9,185.2 172.6,186.8 173.3,188.5 174.0,190.1 174.8,191.8 175.5,193.4 176.2,194.9 176.9,196.5 177.6,198.0 178.3,199.5 179.0,200.9 179.7,202.4 180.5,203.8 181.2,205.2 181.9,206.6 182.6,208.0 183.3,209.3 184.0,210.6 184.7,211.9 185.4,213.2 186.2,214.5 186.9,215.7 187.6,217.0 188.3,218.2 189.0,219.4 189.7,220.6 190.4,221.7 191.1,222.9 191.9,224.0 192.6,225.1 193.3,226.2 194.0,227.3 194.7,228.4 195.4,229.5 196.1,230.5 196.8,231.5 197.5,232.6 198.3,233.6 199.0,234.5 199.7,235.5 200.4,236.5 201.1,237.4 201.8,238.4 202.5,239.3 203.2,240.2 204.0,241.1 204.7,242.0 205.4,242.9 206.1,243.8 206.8,244.6 207.5,245.5 208.2,246.3 208.9,247.2 209.7,248.0 210.4,248.8 211.1,249.6 211.8,250.4 212.5,251.2 213.2,251.9 213.9,252.7 214.6,253.4 215.4,254.2 216.1,254.9 216.8,255.6 217.5,256.4 218.2,257.1 218.9,257.8 219.6,258.5 220.3,259.1 221.0,259.8 221.8,260.5 222.5,261.1 223.2,261.8 223.9,262.4 224.6,263.1 225.3,263.7 226.0,264.3 226.7,265.0 227.5,265.6 228.2,266.2 228.9,266.8 229.6,267.4 230.3,267.9 231.0,268.5 231.7,269.1 232.4,269.7 233.2,270.2 233.9,270.8 234.6,271.3 235.3,271.9 236.0,272.4 236.7,272.9 237.4,273.5 238.1,274.0 238.9,274.5 239.6,275.0 240.3,275.5 241.0,276.0 241.7,276.5 242.4,277.0 243.1,277.5 243.8,277.9 244.6,278.4 245.3,278.9 246.0,279.4 246.7,279.8 247.4,280.3 248.1,280.7 248.8,281.2 249.5,281.6 250.2,282.0 251.0,282.5 251.7,282.9 252.4,283.3 253.1,283.7 253.8,284.2 254.5,284.6 255.2,285.0 255.9,285.4 256.7,285.8 257.4,286.2 258.1,286.6 258.8,287.0 259.5,287.3 260.2,287.7 260.9,288.1 261.6,288.5 262.4,288.9 263.1,289.2 263.8,289.6 264.5,289.9 265.2,290.3 265.9,290.7 266.6,291.0 267.3,291.4 268.1,291.7 268.8,292.0 269.5,292.4 270.2,292.7 270.9,293.0 271.6,293.4 272.3,293.7 273.0,294.0 273.7,294.3 274.5,294.7 275.2,295.0 275.9,295.3 276.6,295.6 277.3,295.9 278.0,296.2 278.7,296.5 279.4,296.8 280.2,297.1 280.9,297.4 281.6,297.7 282.3,298.0 283.0,298.3 283.7,298.5 284.4,298.8 285.1,299.1 285.9,299.4 286.6,299.7 287.3,299.9 288.0,300.2 288.7,300.5 289.4,300.7 290.1,301.0 290.8,301.3 291.6,301.5 292.3,301.8 293.0,302.0 293.7,302.3 294.4,302.5 295.1,302.8 295.8,303.0 296.5,303.3 297.3,303.5 298.0,303.7 298.7,304.0 299.4,304.2 300.1,304.5 300.8,304.7 301.5,304.9 302.2,305.1 302.9,305.4 303.7,305.6 304.4,305.8 305.1,306.0 305.8,306.3 306.5,306.5 307.2,306.7 307.9,306.9 308.6,307.1 309.4,307.3 310.1,307.5 310.8,307.8 311.5,308.0 312.2,308.2 312.9,308.4 313.6,308.6 314.3,308.8 315.1,309.0 315.8,309.2 316.5,309.4 317.2,309.6 317.9,309.8 318.6,309.9 319.3,310.1 320.0,310.3 320.8,310.5 321.5,310.7 322.2,310.9 322.9,311.1 323.6,311.2 324.3,311.4 325.0,311.6 325.7,311.8 326.4,312.0 327.2,312.1 327.9,312.3 328.6,312.5 329.3,312.7 330.0,312.8 330.7,313.0 331.4,313.2 332.1,313.3 332.9,313.5 333.6,313.7 334.3,313.8 335.0,314.0 335.7,314.1 336.4,314.3 337.1,314.5 337.8,314.6 338.6,314.8 339.3,314.9 340.0,315.1 340.7,315.2 341.4,315.4 342.1,315.5 342.8,315.7 343.5,315.8 344.3,316.0 345.0,316.1 345.7,316.3 346.4,316.4 347.1,316.6 347.8,316.7 348.5,316.9 349.2,317.0 350.0,317.1 350.7,317.3 351.4,317.4 352.1,317.6 352.8,317.7 353.5,317.8 354.2,318.0 354.9,318.1 355.6,318.2 356.4,318.4 357.1,318.5 357.8,318.6 358.5,318.8 359.2,318.9 359.9,319.0 360.6,319.1 361.3,319.3 362.1,319.4 362.8,319.5 363.5,319.6 364.2,319.8 364.9,319.9 365.6,320.0 366.3,320.1 367.0,320.2 367.8,320.4 368.5,320.5 369.2,320.6 369.9,320.7 370.6,320.8 371.3,320.9 372.0,321.1 372.7,321.2 373.5,321.3 374.2,321.4 374.9,321.5 375.6,321.6 376.3,321.7 377.0,321.8 377.7,322.0 378.4,322.1 379.1,322.2 379.9,322.3 380.6,322.4 381.3,322.5 382.0,322.6 382.7,322.7 383.4,322.8 384.1,322.9 384.8,323.0 385.6,323.1 386.3,323.2 387.0,323.3 387.7,323.4 388.4,323.5 389.1,323.6 389.8,323.7 390.5,323.8 391.3,323.9 392.0,324.0 392.7,324.1 393.4,324.2 394.1,324.3 394.8,324.4 395.5,324.5 396.2,324.6 397.0,324.7 397.7,324.7 398.4,324.8 399.1,324.9 399.8,325.0 400.5,325.1 401.2,325.2 401.9,325.3 402.7,325.4 403.4,325.5 404.1,325.6 404.8,325.6 405.5,325.7 406.2,325.8 406.9,325.9 407.6,326.0 408.3,326.1 409.1,326.2 409.8,326.2 410.5,326.3 411.2,326.4 411.9,326.5 412.6,326.6 413.3,326.6 414.0,326.7 414.8,326.8 415.5,326.9 416.2,327.0 416.9,327.0 417.6,327.1 418.3,327.2 419.0,327.3 419.7,327.4 420.5,327.4 421.2,327.5 421.9,327.6 422.6,327.7 423.3,327.7 424.0,327.8 424.7,327.9 425.4,328.0 426.2,328.0 426.9,328.1 427.6,328.2 428.3,328.3 429.0,328.3 429.7,328.4 430.4,328.5 431.1,328.5 431.8,328.6 432.6,328.7 433.3,328.7 434.0,328.8 434.7,328.9 435.4,329.0 436.1,329.0 436.8,329.1 437.5,329.2 438.3,329.2 439.0,329.3 439.7,329.4 440.4,329.4 441.1,329.5 441.8,329.6 442.5,329.6 443.2,329.7 444.0,329.7 444.7,329.8 445.4,329.9 446.1,329.9 446.8,330.0 447.5,330.1 448.2,330.1 448.9,330.2 449.7,330.3 450.4,330.3 451.1,330.4 451.8,330.4 452.5,330.5 453.2,330.6 453.9,330.6 454.6,330.7 455.4,330.7 456.1,330.8 456.8,330.9 457.5,330.9 458.2,331.0 458.9,331.0 459.6,331.1 460.3,331.1 461.0,331.2 461.8,331.3 462.5,331.3 463.2,331.4 463.9,331.4 464.6,331.5 465.3,331.5 466.0,331.6 466.7,331.6 467.5,331.7 468.2,331.8 468.9,331.8 469.6,331.9 470.3,331.9 471.0,332.0 471.7,332.0 472.4,332.1 473.2,332.1 473.9,332.2 474.6,332.2 475.3,332.3 475.4,332.3" fill="none" stroke="#808000" stroke-width="1" marker-start="url(#molive)" marker-mid="url(#molive)" marker-end="url(#molive)"/></g>
<g><rect x="96.8" y="25.45" width="423.40" height="346.65" fill="none" stroke="#000" stroke-width="2.55"/></g>
<g stroke="#000"><line x1="119.3" y1="372.1" x2="119.3" y2="364.1" stroke-width="2.6"/><line x1="163.8" y1="372.1" x2="163.8" y2="364.1" stroke-width="2.6"/><line x1="208.3" y1="372.1" x2="208.3" y2="364.1" stroke-width="2.6"/><line x1="252.8" y1="372.1" x2="252.8" y2="364.1" stroke-width="2.6"/><line x1="297.3" y1="372.1" x2="297.3" y2="364.1" stroke-width="2.6"/><line x1="341.9" y1="372.1" x2="341.9" y2="364.1" stroke-width="2.6"/><line x1="386.4" y1="372.1" x2="386.4" y2="364.1" stroke-width="2.6"/><line x1="430.9" y1="372.1" x2="430.9" y2="364.1" stroke-width="2.6"/><line x1="475.4" y1="372.1" x2="475.4" y2="364.1" stroke-width="2.6"/><line x1="96.8" y1="345.5" x2="104.0" y2="345.5" stroke-width="2.3"/><line x1="96.8" y1="318.9" x2="101.4" y2="318.9" stroke-width="2.3"/><line x1="96.8" y1="292.2" x2="104.0" y2="292.2" stroke-width="2.3"/><line x1="96.8" y1="265.5" x2="101.4" y2="265.5" stroke-width="2.3"/><line x1="96.8" y1="238.9" x2="104.0" y2="238.9" stroke-width="2.3"/><line x1="96.8" y1="212.2" x2="101.4" y2="212.2" stroke-width="2.3"/><line x1="96.8" y1="185.5" x2="104.0" y2="185.5" stroke-width="2.3"/><line x1="96.8" y1="158.8" x2="101.4" y2="158.8" stroke-width="2.3"/><line x1="96.8" y1="132.2" x2="104.0" y2="132.2" stroke-width="2.3"/><line x1="96.8" y1="105.5" x2="101.4" y2="105.5" stroke-width="2.3"/><line x1="96.8" y1="78.8" x2="104.0" y2="78.8" stroke-width="2.3"/><line x1="96.8" y1="52.2" x2="101.4" y2="52.2" stroke-width="2.3"/></g>
<g class="tk"><text transform="translate(119.9,394.6) scale(0.875,1)" text-anchor="middle">200</text><text transform="translate(164.4,394.6) scale(0.875,1)" text-anchor="middle">300</text><text transform="translate(208.9,394.6) scale(0.875,1)" text-anchor="middle">400</text><text transform="translate(253.4,394.6) scale(0.875,1)" text-anchor="middle">500</text><text transform="translate(297.9,394.6) scale(0.875,1)" text-anchor="middle">600</text><text transform="translate(342.5,394.6) scale(0.875,1)" text-anchor="middle">700</text><text transform="translate(387.0,394.6) scale(0.875,1)" text-anchor="middle">800</text><text transform="translate(431.5,394.6) scale(0.875,1)" text-anchor="middle">900</text><text transform="translate(476.0,394.6) scale(0.875,1)" text-anchor="middle">1000</text><text transform="translate(520.5,394.6) scale(0.875,1)" text-anchor="middle">1100</text><text transform="translate(91.3,350.6) scale(0.875,1)" text-anchor="end">1.62</text><text transform="translate(91.3,297.3) scale(0.875,1)" text-anchor="end">1.64</text><text transform="translate(91.3,244.0) scale(0.875,1)" text-anchor="end">1.66</text><text transform="translate(91.3,190.6) scale(0.875,1)" text-anchor="end">1.68</text><text transform="translate(91.3,137.3) scale(0.875,1)" text-anchor="end">1.70</text><text transform="translate(91.3,83.9) scale(0.875,1)" text-anchor="end">1.72</text><text transform="translate(91.3,30.6) scale(0.875,1)" text-anchor="end">1.74</text></g>
<text transform="translate(215.2,426.2) scale(0.895,1)" font-size="26.4">Wavelength (nm)</text>
<text transform="translate(32.5,296.3) rotate(-90)" font-size="26.8">Refractive index</text>
<g><line x1="260" y1="57.80" x2="294" y2="57.80" stroke="#606060" stroke-width="1.6"/><ellipse cx="276.8" cy="57.8" rx="3.5" ry="3.9" fill="#000000"/><circle cx="275.8" cy="56.7" r="1.1" fill="#fff"/><text transform="translate(298.4,63.4) scale(0.885,1)" class="lg">H<tspan font-size="14.4" dy="6">2</tspan><tspan dy="-6">O Plasma </tspan><tspan dy="1.5">~</tspan><tspan dy="-1.5"> 50 nm</tspan></text><line x1="260" y1="89.45" x2="294" y2="89.45" stroke="#ff0000" stroke-width="1.6"/><ellipse cx="276.8" cy="89.5" rx="3.5" ry="3.9" fill="#ff0000"/><circle cx="275.8" cy="88.4" r="1.1" fill="#fff"/><text transform="translate(298.4,95.0) scale(0.885,1)" class="lg">H<tspan font-size="14.4" dy="6">2</tspan><tspan dy="-6">O Plasma </tspan><tspan dy="1.5">~</tspan><tspan dy="-1.5"> 75 nm</tspan></text><line x1="260" y1="121.45" x2="294" y2="121.45" stroke="#0000ff" stroke-width="1.6"/><ellipse cx="276.8" cy="121.5" rx="3.5" ry="3.9" fill="#0000ff"/><circle cx="275.8" cy="120.4" r="1.1" fill="#fff"/><text transform="translate(298.4,127.0) scale(0.885,1)" class="lg">H<tspan font-size="14.4" dy="6">2</tspan><tspan dy="-6">O Plasma </tspan><tspan dy="1.5">~</tspan><tspan dy="-1.5"> 100 nm</tspan></text><line x1="260" y1="152.65" x2="294" y2="152.65" stroke="#008080" stroke-width="1.6"/><ellipse cx="276.8" cy="152.7" rx="3.5" ry="3.9" fill="#008080"/><circle cx="275.8" cy="151.6" r="1.1" fill="#fff"/><text transform="translate(298.4,158.2) scale(0.885,1)" class="lg">O<tspan font-size="14.4" dy="6">2 </tspan><tspan dy="-6">Plasma </tspan><tspan dy="1.5">~</tspan><tspan dy="-1.5"> 50 nm</tspan></text><line x1="260" y1="184.45" x2="294" y2="184.45" stroke="#ff00ff" stroke-width="1.6"/><ellipse cx="276.8" cy="184.4" rx="3.5" ry="3.9" fill="#ff00ff"/><circle cx="275.8" cy="183.3" r="1.1" fill="#fff"/><text transform="translate(298.4,190.0) scale(0.885,1)" class="lg">O<tspan font-size="14.4" dy="6">2 </tspan><tspan dy="-6">Plasma </tspan><tspan dy="1.5">~</tspan><tspan dy="-1.5"> 75 nm</tspan></text><line x1="260" y1="215.60" x2="294" y2="215.60" stroke="#808000" stroke-width="1.6"/><ellipse cx="276.8" cy="215.6" rx="3.5" ry="3.9" fill="#808000"/><circle cx="275.8" cy="214.5" r="1.1" fill="#fff"/><text transform="translate(298.4,221.2) scale(0.885,1)" class="lg">O<tspan font-size="14.4" dy="6">2 </tspan><tspan dy="-6">Plasma </tspan><tspan dy="1.5">~</tspan><tspan dy="-1.5"> 100 nm</tspan></text></g>
</svg>
</body></html>
